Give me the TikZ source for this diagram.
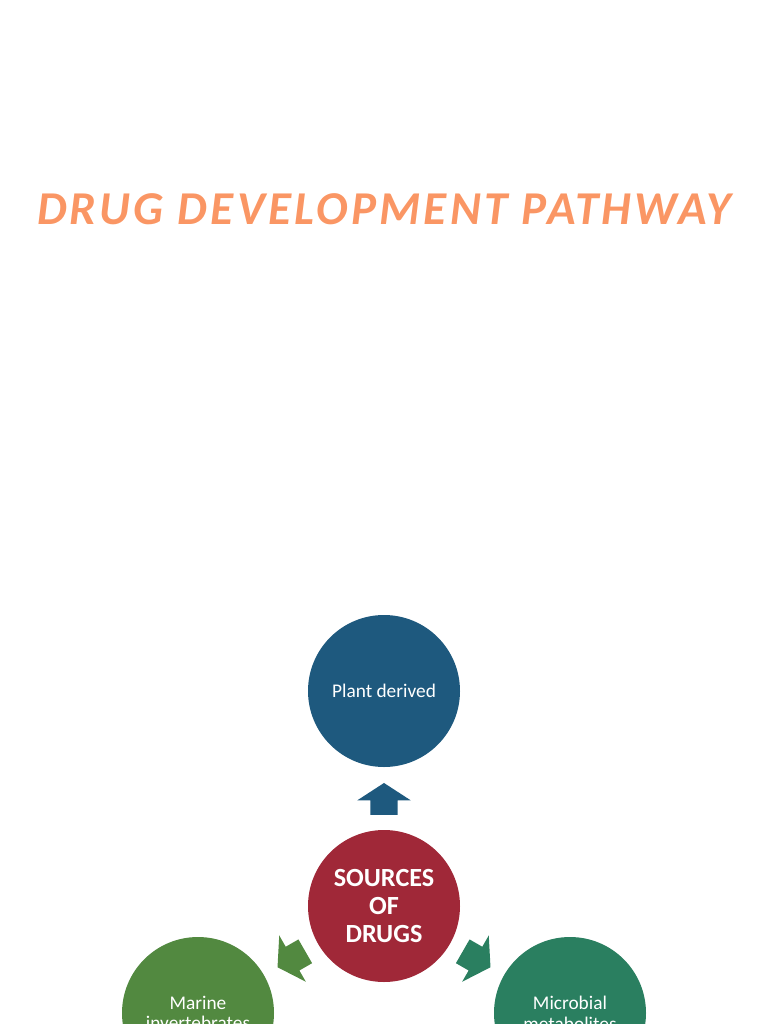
\documentclass[tikz,border=0pt]{standalone}
\usepackage{fontspec}
\setmainfont{Carlito}
\newfontfamily\titlefont[LetterSpace=7]{Carlito}
\usetikzlibrary{calc}
\usetikzlibrary{shapes.arrows}
\definecolor{titleorange}{RGB}{250,150,100}
\definecolor{plantblue}{RGB}{30,89,126}
\definecolor{srcred}{RGB}{160,40,56}
\definecolor{marinegreen}{RGB}{82,137,64}
\definecolor{microgreen}{RGB}{42,127,96}
\tikzset{%
  mycircle/.style={circle, minimum size=15.2mm, inner sep=0pt, text=white, align=center,
    font=\fontsize{5.5}{5.9}\selectfont},
  myarrow/.style={single arrow, draw=none, minimum height=3.2mm, inner xsep=0pt,
    inner ysep=1.3mm, single arrow head extend=1.3mm, single arrow tip angle=114,
    sloped, allow upside down}
}

\begin{document}
\begin{tikzpicture}[x=0.1mm, y=-0.1mm]
\useasboundingbox (0,0) rectangle (768,1024);
\clip (0,0) rectangle (768,1024);

\node [text=titleorange, font=\titlefont\bfseries\itshape\fontsize{13.4}{15}\selectfont] (title) at (384,209) {DRUG DEVELOPMENT PATHWAY};

\node [mycircle, fill=srcred, font=\bfseries\fontsize{7.45}{8.1}\selectfont] (src) at (384,906) {SOURCES\\OF\\DRUGS};

\foreach \name / \x / \y / \col / \txt in {plant/384/691/plantblue/Plant derived, marine/198/1013/marinegreen/Marine\\invertebrates, microbe/570/1013/microgreen/Microbial\\metabolites}{
  \node [mycircle, fill=\col] (\name) at (\x,\y) {\txt};
}

% block arrows
\foreach \to / \col in {plant/plantblue, marine/marinegreen, microbe/microgreen}{
  \path (src) -- node [myarrow, fill=\col, pos=0.42] {} (\to);
}

\end{tikzpicture}
\end{document}
